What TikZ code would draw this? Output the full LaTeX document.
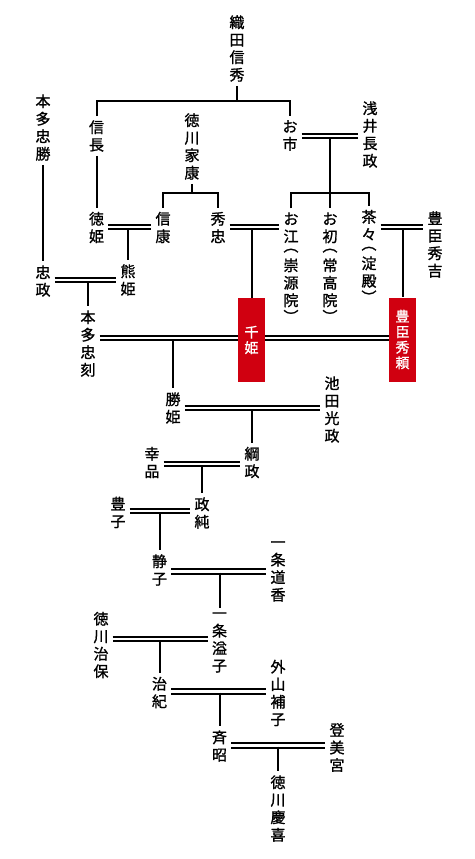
\documentclass[tikz,border=0pt]{standalone}
\usepackage{fontspec}
\newfontfamily\jpfont[FakeBold=1.2]{Noto Sans CJK JP}
\newfontfamily\jptate[FakeBold=1.2,RawFeature=+vert]{Noto Sans CJK JP}
\definecolor{senred}{RGB}{208,0,16}
\newcommand\tatepar[1]{\smash{\jptate #1}}
\tikzset{
  person/.style={font=\jpfont\fontsize{15}{17.5}\selectfont, align=center, inner sep=4pt},
  redbox/.style={font=\jpfont\fontsize{14}{15.5}\selectfont, align=center, fill=senred,
    text=white, inner sep=0pt, minimum width=27.5pt, minimum height=84pt},
  kin/.style={line width=2pt},
  wed/.style={double, double distance=2.4pt, line width=1.9pt},
}
\begin{document}
\begin{tikzpicture}[x=1pt,y=-1pt]
  \useasboundingbox (0,0) rectangle (474,859);

  % Oda and the first generation
  \node[person] (nobuhide)  at (237,48.5)  {織\\田\\信\\秀};
  \node[person] (tadakatsu) at (43,127.5)  {本\\多\\忠\\勝};
  \node[person] (nobunaga)  at (96.5,136)  {信\\長};
  \node[person] (ieyasu)    at (192,146.5) {徳\\川\\家\\康};
  \node[person] (oichi)     at (290,135.5) {お\\市};
  \node[person] (nagamasa)  at (370,134.5) {浅\\井\\長\\政};

  % second generation
  \node[person] (tokuhime)  at (96.5,227.5) {徳\\姫};
  \node[person] (nobuyasu)  at (163,227.5)  {信\\康};
  \node[person] (hidetada)  at (218,227.5)  {秀\\忠};
  \node[person] (go)        at (291,267.5)  {お\\江\\[-8pt]\tatepar{（}\\[2pt]崇\\源\\院\\[-1pt]\tatepar{）}};
  \node[person] (hatsu)     at (330,267.5)  {お\\初\\[-8pt]\tatepar{（}\\[2pt]常\\高\\院\\[-1pt]\tatepar{）}};
  \node[person] (chacha)    at (369,256.5)  {茶\\々\\[-8pt]\tatepar{（}\\[2pt]淀\\殿\\[-1pt]\tatepar{）}};
  \node[person] (hideyoshi) at (435,244.5)  {豊\\臣\\秀\\吉};
  \node[person] (tadamasa)  at (43,281)     {忠\\政};
  \node[person] (kumahime)  at (128,280)    {熊\\姫};

  % Senhime and her husbands
  \node[person] (tadatoki)  at (88,343.5)   {本\\多\\忠\\刻};
  \node[redbox] (senhime)   at (251.5,340)  {千\\姫};
  \node[redbox] (hideyori)  at (402.5,339.5) {豊\\臣\\秀\\頼};

  % later generations
  \node[person] (katsuhime) at (173,408)    {勝\\姫};
  \node[person] (mitsumasa) at (332,409.5)  {池\\田\\光\\政};
  \node[person] (yukishina) at (152,462.5)  {幸\\品};
  \node[person] (tsunamasa) at (252,462.5)  {綱\\政};
  \node[person] (toyoko)    at (118,512.5)  {豊\\子};
  \node[person] (masazumi)  at (202,513)    {政\\純};
  \node[person] (shizuko)   at (159.5,570)  {静\\子};
  \node[person] (michika)   at (278,571.5)  {一\\条\\道\\香};
  \node[person] (harumori)  at (101,645)    {徳\\川\\治\\保};
  \node[person] (yoshiko)   at (219.5,642.5) {一\\条\\溢\\子};
  \node[person] (harutoshi) at (159.5,692.5) {治\\紀};
  \node[person] (hoko)      at (278,693)    {外\\山\\補\\子};
  \node[person] (nariaki)   at (219.5,746)  {斉\\昭};
  \node[person] (tomimiya)  at (337,747.5)  {登\\美\\宮};
  \node[person] (yoshinobu) at (278,808.5)  {徳\\川\\慶\\喜};

  % children of Nobuhide
  \coordinate (oda bar) at (237,101);
  \draw[kin] (nobuhide.south) -- (oda bar);
  \draw[kin] (nobunaga.north) |- (oda bar) -| (oichi.north);
  \draw[kin] (nobunaga.south) -- (tokuhime.north);
  \draw[kin] (tadakatsu.south) -- (tadamasa.north);

  % children of Ieyasu
  \coordinate (ieyasu bar) at (192,193);
  \draw[kin] (ieyasu.south) -- (ieyasu bar);
  \draw[kin] (nobuyasu.north) |- (ieyasu bar) -| (hidetada.north);

  % Oichi and Nagamasa, three daughters
  \coordinate (azai wed) at (330,136);
  \coordinate (azai bar) at (330,193);
  \draw[wed] (oichi.east |- azai wed) -- (nagamasa.west |- azai wed);
  \draw[kin] ([yshift=-1.2pt]azai wed) -- (azai bar);
  \draw[kin] (go.north) |- (azai bar) -| (chacha.north);
  \draw[kin] (azai bar) -- (hatsu.north);

  % marriages of the second generation
  \coordinate (nobuyasu wed) at (128,227);
  \coordinate (hidetada wed) at (251.5,227);
  \coordinate (toyotomi wed) at (402.5,227);
  \coordinate (tadamasa wed) at (88,280);
  \draw[wed] (tokuhime.east |- nobuyasu wed) -- (nobuyasu.west |- nobuyasu wed);
  \draw[kin] ([yshift=-1.2pt]nobuyasu wed) -- (kumahime.north);
  \draw[wed] (hidetada.east |- hidetada wed) -- (go.west |- hidetada wed);
  \draw[kin] ([yshift=-1.2pt]hidetada wed) -- (senhime.north);
  \draw[wed] (chacha.east |- toyotomi wed) -- (hideyoshi.west |- toyotomi wed);
  \draw[kin] ([yshift=-1.2pt]toyotomi wed) -- (hideyori.north);
  \draw[wed] (tadamasa.east |- tadamasa wed) -- (kumahime.west |- tadamasa wed);
  \draw[kin] ([yshift=-1.2pt]tadamasa wed) -- (tadatoki.north);

  % Senhime between Tadatoki and Hideyori
  \coordinate (honda wed) at (173,338);
  \draw[wed] (tadatoki.east |- honda wed) -- (senhime.west |- honda wed);
  \draw[wed] (senhime.east |- honda wed) -- (hideyori.west |- honda wed);
  \draw[kin] ([yshift=-1.2pt]honda wed) -- (katsuhime.north);

  % down to Yoshinobu
  \coordinate (ikeda wed)   at (252,408);
  \coordinate (tsuna wed)   at (202,464);
  \coordinate (masa wed)    at (159.5,511);
  \coordinate (ichijo wed)  at (219.5,571.5);
  \coordinate (haru wed)    at (159.5,639);
  \coordinate (toyama wed)  at (219.5,691.5);
  \coordinate (nari wed)    at (278,745.5);
  \draw[wed] (katsuhime.east |- ikeda wed) -- (mitsumasa.west |- ikeda wed);
  \draw[kin] ([yshift=-1.2pt]ikeda wed) -- (tsunamasa.north);
  \draw[wed] (yukishina.east |- tsuna wed) -- (tsunamasa.west |- tsuna wed);
  \draw[kin] ([yshift=-1.2pt]tsuna wed) -- (masazumi.north);
  \draw[wed] (toyoko.east |- masa wed) -- (masazumi.west |- masa wed);
  \draw[kin] ([yshift=-1.2pt]masa wed) -- (shizuko.north);
  \draw[wed] (shizuko.east |- ichijo wed) -- (michika.west |- ichijo wed);
  \draw[kin] ([yshift=-1.2pt]ichijo wed) -- (yoshiko.north);
  \draw[wed] (harumori.east |- haru wed) -- (yoshiko.west |- haru wed);
  \draw[kin] ([yshift=-1.2pt]haru wed) -- (harutoshi.north);
  \draw[wed] (harutoshi.east |- toyama wed) -- (hoko.west |- toyama wed);
  \draw[kin] ([yshift=-1.2pt]toyama wed) -- (nariaki.north);
  \draw[wed] (nariaki.east |- nari wed) -- (tomimiya.west |- nari wed);
  \draw[kin] ([yshift=-1.2pt]nari wed) -- (yoshinobu.north);
\end{tikzpicture}
\end{document}
